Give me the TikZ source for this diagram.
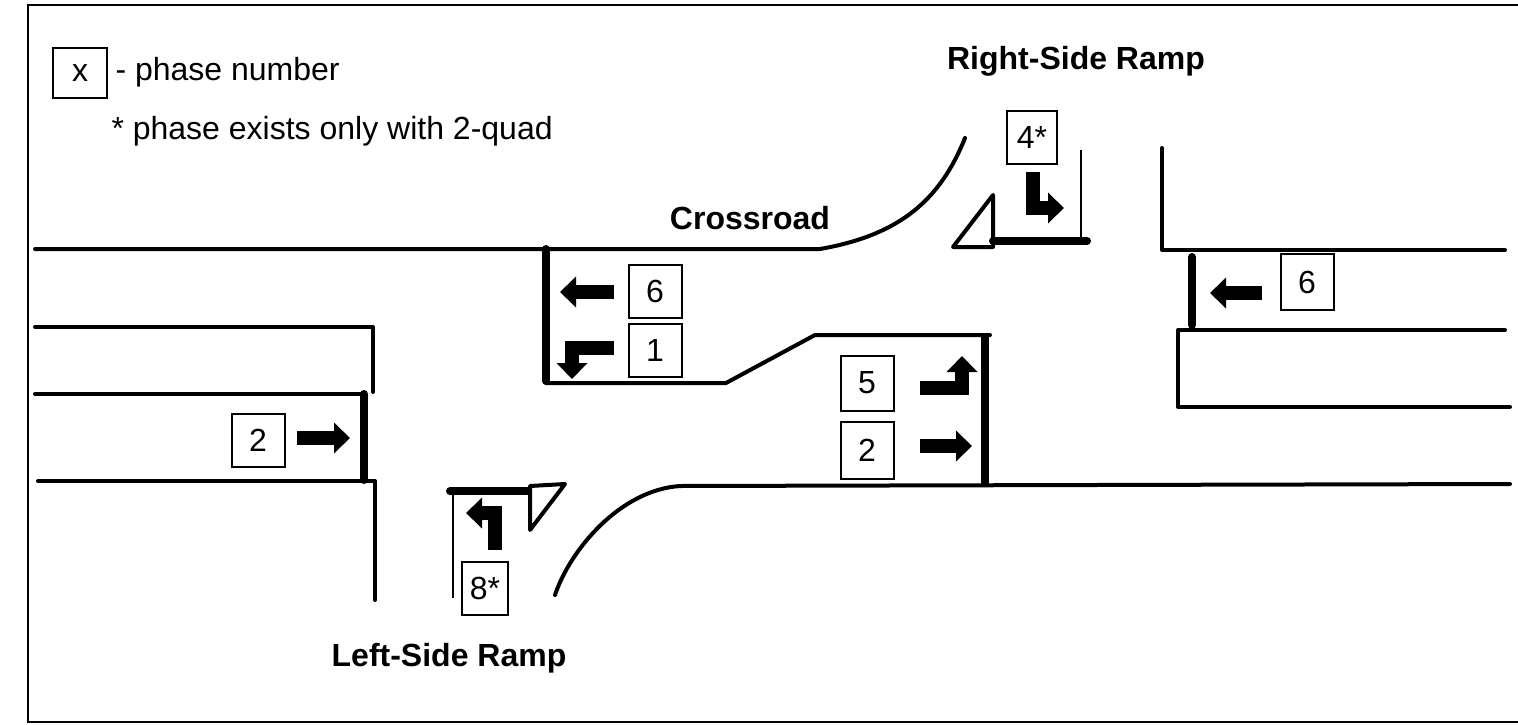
\documentclass[tikz,border=0pt]{standalone}
\usepackage{fontspec}
\setmainfont{Liberation Sans}
\usetikzlibrary{arrows.meta}
\begin{document}
\begin{tikzpicture}[x=1pt,y=-1pt,
  road/.style={line width=4pt,line cap=round,line join=round},
  stopbar/.style={line width=8pt,line cap=round},
  thin/.style={line width=2.5pt},
  pbox/.style={draw,line width=2pt,minimum width=53pt,minimum height=53pt,inner sep=0pt,font=\fontsize{32}{32}\selectfont},
  mv/.style={line width=14pt,-{Triangle[width=30pt,length=16pt]}},
  lbl/.style={font=\bfseries\fontsize{32}{34}\selectfont}]
\useasboundingbox (0,0) rectangle (1518,725);
\draw[line width=2.5pt] (28,5) rectangle (1530,722);
% legend
\node[pbox,minimum width=54pt,minimum height=50pt] (lx) at (80,73) {x};
\node[anchor=west,font=\fontsize{32}{34}\selectfont] (lt) at (112,72) {- phase number};
\node[anchor=west,font=\fontsize{32}{34}\selectfont] (lt2) at (108,131) {* phase exists only with 2-quad};
\node[lbl] (rsr) at (1076,61) {Right-Side Ramp};
\node[lbl] (cr) at (750,218) {Crossroad};
\node[lbl] (lsr) at (449,658) {Left-Side Ramp};
% crossroad top
\draw[road] (35,249) -- (820,249) .. controls (900,235) and (940,200) .. (965,138);
\draw[stopbar] (546,249) -- (546,381);
\draw[road] (546,383) -- (726,383) -- (815,335) -- (990,335);
\draw[stopbar] (985,337) -- (985,483);
\draw[road] (1510,484) -- (680,486) .. controls (620,490) and (570,550) .. (555,595);
% left
\draw[road] (35,327) -- (373,327) -- (373,392);
\draw[road] (35,394) -- (365,394);
\draw[stopbar] (364,394) -- (364,480);
\draw[road] (38,481) -- (375,481) -- (375,600);
% left ramp
\draw[stopbar] (450,491) -- (527,491);
\draw[thin] (453,491) -- (453,598);
\draw[road] (530,486) -- (565,484) -- (530,530) -- cycle;
% right ramp
\draw[road] (953,247) -- (993,195) -- (993,247) -- cycle;
\draw[stopbar] (993,241) -- (1087,241);
\draw[thin] (1081,150) -- (1081,241);
% right region
\draw[road] (1162,148) -- (1162,250) -- (1505,250);
\draw[stopbar] (1192,257) -- (1192,325);
\draw[road] (1505,330) -- (1178,330) -- (1178,407) -- (1510,407);
% boxes
\node[pbox,minimum width=50pt] (b4) at (1032,137) {4*};
\node[pbox,minimum width=46pt] (b8) at (485,588) {8*};
\node[pbox] (b6a) at (655,291) {6};
\node[pbox] (b1) at (655,350) {1};
\node[pbox,minimum height=55pt] (b5) at (867,383) {5};
\node[pbox,minimum height=57pt] (b2a) at (867,450) {2};
\node[pbox] (b2b) at (258,440) {2};
\node[pbox,minimum height=56pt] (b6b) at (1307,282) {6};
% movement arrows
\draw[mv] (614,292) -- (560,292);
\draw[mv] (614,348) -- (572,348) -- (572,379);
\draw[mv] (920,388) -- (962,388) -- (962,356);
\draw[mv] (920,446) -- (972,446);
\draw[mv] (297,438) -- (350,438);
\draw[mv] (1262,293) -- (1210,293);
\draw[mv] (495,550) -- (495,513) -- (466,513);
\draw[mv] (1033,172) -- (1033,208) -- (1064,208);
\end{tikzpicture}
\end{document}
